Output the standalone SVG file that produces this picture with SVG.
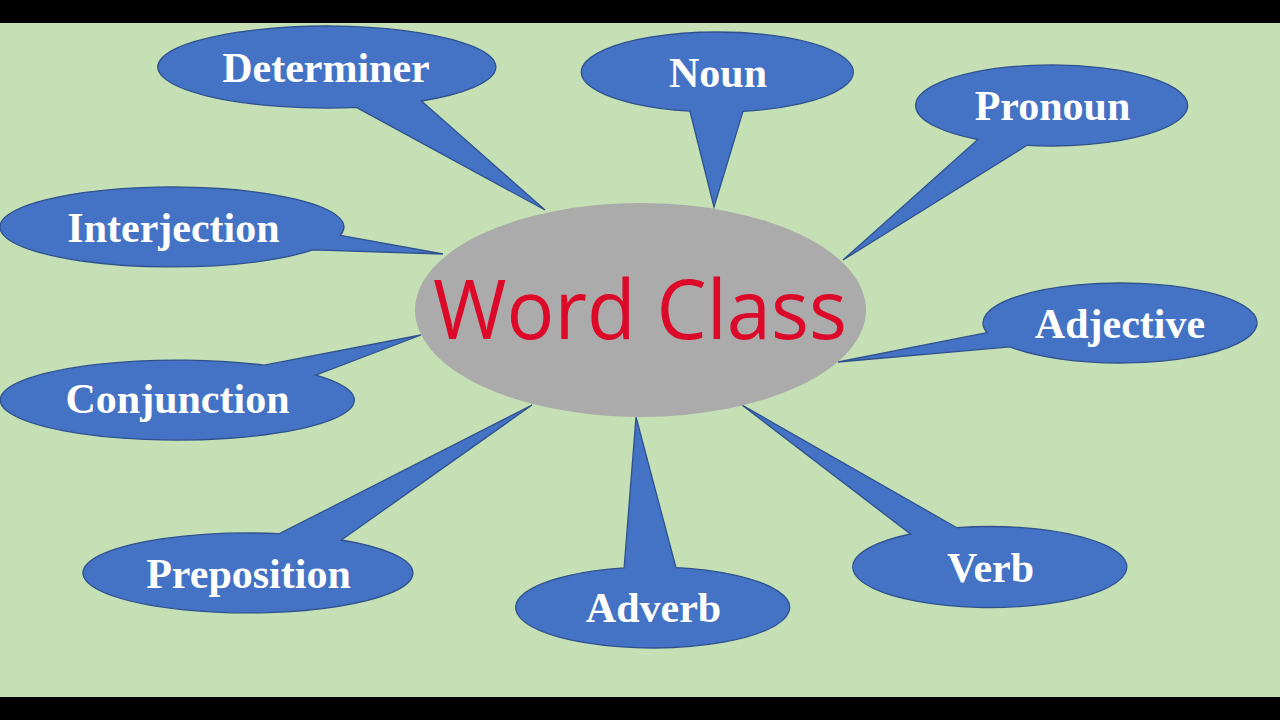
<svg xmlns="http://www.w3.org/2000/svg" width="1280" height="720" viewBox="0 0 1280 720">
  <style>
    .bubble { fill: #4472c4; stroke: #2f528f; stroke-width: 1.3; }
    .label { font-family: "Liberation Serif", "Times New Roman", serif; font-weight: bold; font-size: 42px; fill: #ffffff; text-anchor: middle; }
    .title { font-family: "Open Sans", "Noto Sans", "Liberation Sans", sans-serif; font-size: 82px; fill: #dc0a28; text-anchor: middle; }
  </style>
  <rect x="0" y="0" width="1280" height="720" fill="#c5e0b4"/>
  <rect x="0" y="0" width="1280" height="23" fill="#000000"/>
  <rect x="0" y="697" width="1280" height="23" fill="#000000"/>

  <g id="determiner">
    <path class="bubble" d="M 545 210 L 356.4 107.4 A 169 41 0 1 1 421.5 101 Z" transform="translate(0,0)"/>
    <text class="label" x="326" y="82">Determiner</text>
  </g>
  <g id="noun">
    <path class="bubble" d="M 714 207 L 689.9 111.2 A 136 40 0 1 1 743 111.3 Z"/>
    <text class="label" x="718" y="87">Noun</text>
  </g>
  <g id="pronoun">
    <path class="bubble" d="M 843 260 L 977.9 139.5 A 136 40.5 0 1 1 1027 145.3 Z"/>
    <text class="label" x="1052.5" y="120">Pronoun</text>
  </g>
  <g id="interjection">
    <path class="bubble" d="M 443 254 L 312.9 249.9 A 172 40 0 1 1 340.2 235.3 Z"/>
    <text class="label" x="173.5" y="242">Interjection</text>
  </g>
  <g id="conjunction">
    <path class="bubble" d="M 421 335 L 315.6 375.1 A 177 40 0 1 1 264.1 365.2 Z"/>
    <text class="label" x="177.5" y="413">Conjunction</text>
  </g>
  <g id="adjective">
    <path class="bubble" d="M 838 362 L 987.1 332.7 A 137 40 0 1 1 1009.9 346.8 Z"/>
    <text class="label" x="1120" y="338">Adjective</text>
  </g>
  <g id="verb">
    <path class="bubble" d="M 742 405 L 956.8 527.7 A 137 40.5 0 1 1 910.4 534 Z"/>
    <text class="label" x="990.5" y="582">Verb</text>
  </g>
  <g id="preposition">
    <path class="bubble" d="M 532 405 L 341.4 540 A 165 40 0 1 1 279.5 533.7 Z"/>
    <text class="label" x="248.5" y="588">Preposition</text>
  </g>
  <g id="adverb">
    <path class="bubble" d="M 636 417 L 676 567.6 A 137 40.5 0 1 1 624.1 567.9 Z"/>
    <text class="label" x="653.5" y="622">Adverb</text>
  </g>

  <g id="word-class">
    <ellipse cx="640.5" cy="310" rx="225.5" ry="107" fill="#ababab"/>
    <text class="title" x="640" y="339" textLength="414" lengthAdjust="spacingAndGlyphs">Word Class</text>
  </g>
</svg>
